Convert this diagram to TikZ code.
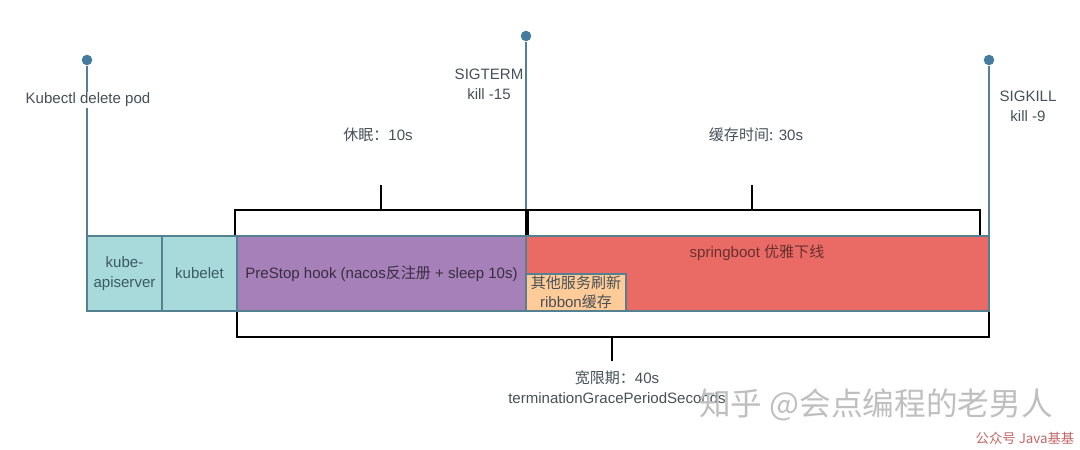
\documentclass[tikz,border=0pt]{standalone}
\usepackage{fontspec}
\setmainfont{Liberation Sans}
\newfontfamily\cjk{Noto Sans CJK SC}
\definecolor{pinblue}{HTML}{457B9D}
\definecolor{pinline}{HTML}{55808F}
\definecolor{labelgray}{HTML}{474F57}
\definecolor{tealfill}{HTML}{A8DADC}
\definecolor{purplefill}{HTML}{A680B8}
\definecolor{redfill}{HTML}{EA6B66}
\definecolor{orangefill}{HTML}{FFCC99}
\tikzset{
	phase/.style={draw=pinline, line width=2pt, minimum height=53.3pt, inner sep=0pt, outer sep=0pt, align=center, anchor=north west, font=\fontsize{10.7}{14}\selectfont},
	pin/.style={circle, fill=pinblue, inner sep=0pt, minimum size=7.5pt},
	pinstem/.style={draw=pinline, line width=2pt},
	bracket/.style={draw=black, line width=1.8pt},
	lbl/.style={text=labelgray, font=\fontsize{10.7}{14}\selectfont, align=center, inner sep=1pt}
}
\begin{document}
\begin{tikzpicture}[x=0.7111pt, y=-0.7111pt]
	\useasboundingbox (0, 0) rectangle (1080, 450);

	% pins
	\node (P1) at ( 87, 60)	[pin]	{};
	\node (P2) at (526, 36)	[pin]	{};
	\node (P3) at (989, 60)	[pin]	{};
	\coordinate (P1b) at ( 87, 236);
	\coordinate (P2b) at (526, 236);
	\coordinate (P3b) at (989, 236);
	\draw[pinstem] (P1) -- (P1b);
	\draw[pinstem] (P2) -- (P2b);
	\draw[pinstem] (P3) -- (P3b);

	% brackets
	\coordinate (A1) at (235, 236);
	\coordinate (A2) at (235, 210);
	\coordinate (A3) at (526, 210);
	\coordinate (A4) at (526, 236);
	\coordinate (B1) at (527.5, 236);
	\coordinate (B2) at (527.5, 210);
	\coordinate (B3) at (980, 210);
	\coordinate (B4) at (980, 236);
	\coordinate (C1) at (237, 311);
	\coordinate (C2) at (237, 337);
	\coordinate (C3) at (989, 337);
	\coordinate (C4) at (989, 311);
	\coordinate (S1a) at (381, 210);
	\coordinate (S1b) at (381, 185);
	\coordinate (S2a) at (752, 210);
	\coordinate (S2b) at (752, 185);
	\coordinate (S3a) at (612, 337);
	\coordinate (S3b) at (612, 361);
	\draw[bracket] (A1) -- (A2) -- (A3) -- (A4);
	\draw[bracket] (B1) -- (B2) -- (B3) -- (B4);
	\draw[bracket] (C1) -- (C2) -- (C3) -- (C4);
	\draw[bracket] (S1a) -- (S1b);
	\draw[bracket] (S2a) -- (S2b);
	\draw[bracket] (S3a) -- (S3b);

	% phases
	\node (KA) at ( 87, 236)	[phase, fill=tealfill, minimum width=53.3pt, text=pinline!70!black]	{kube-\\apiserver};
	\node (KL) at (162, 236)	[phase, fill=tealfill, minimum width=53.3pt, text=pinline!70!black]	{kubelet};
	\node (PS) at (237, 236)	[phase, fill=purplefill, minimum width=205.5pt, text=purplefill!35!black]	{PreStop hook (nacos{\cjk 反注册} + sleep 10s)};
	\node (SB) at (526, 236)	[phase, fill=redfill, minimum width=329.2pt]	{};
	\node (OT) at (526, 274)	[phase, fill=orangefill, minimum width=71.1pt, minimum height=26.3pt, text=labelgray, font=\fontsize{10.7}{13.5}\selectfont]	{{\cjk 其他服务刷新}\\ribbon{\cjk 缓存}};
	\node (SBt) at (757, 253)	[text=redfill!45!black, font=\fontsize{10.7}{14}\selectfont, inner sep=1pt]	{springboot {\cjk 优雅下线}};

	% labels
	\node (L1) at ( 88, 100)	[lbl, fill=white]	{Kubectl delete pod};
	\node (L2) at (489, 84)	[lbl]	{SIGTERM\\kill -15};
	\node (L3) at (1028, 106)	[lbl]	{SIGKILL\\kill -9};
	\node (L4) at (378, 135)	[lbl]	{{\cjk 休眠：}10s};
	\node (L5) at (756, 135)	[lbl]	{{\cjk 缓存时间:} 30s};
	\node (L6) at (617, 387)	[lbl]	{{\cjk 宽限期：}40s\\terminationGracePeriodSeconds};

	% watermarks
	\node (W1) at (876, 405)	[text=gray!50, inner sep=0pt, font=\cjk\fontsize{22.5}{24}\selectfont]	{知乎 @会点编程的老男人};
	\node (W2) at (1025, 438)	[text=red!60!black!60, inner sep=0pt, font=\cjk\fontsize{9.5}{11}\selectfont]	{公众号 Java基基};
\end{tikzpicture}
\end{document}
